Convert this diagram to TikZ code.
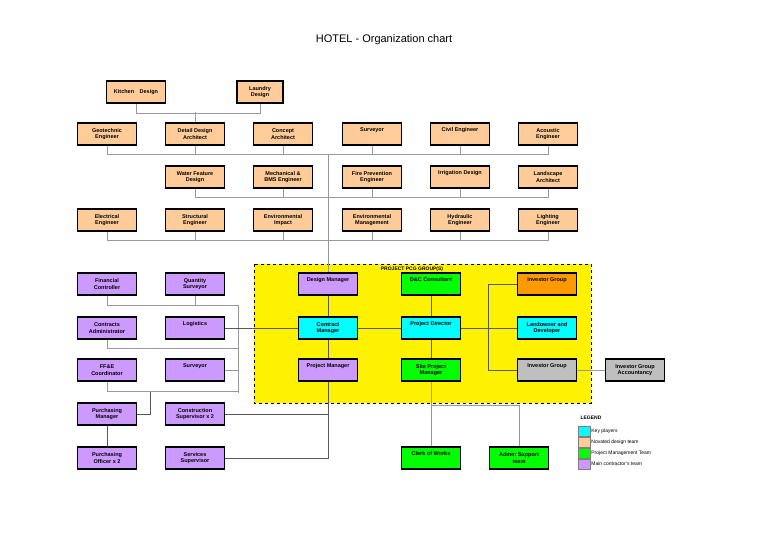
\documentclass[tikz,border=0pt]{standalone}
\usepackage{fontspec}
\setmainfont{Liberation Sans}
\definecolor{novated}{RGB}{255,204,153}
\definecolor{contractor}{RGB}{204,153,255}
\definecolor{investor}{RGB}{255,153,0}
\definecolor{keyplayer}{RGB}{0,255,255}
\definecolor{pmteam}{RGB}{0,255,0}
\begin{document}
\tikzstyle{box}=[draw=black,line width=1.2pt,minimum width=59pt,minimum height=22pt,align=center,inner sep=1pt,font=\fontsize{5.5}{6.5}\selectfont\bfseries]
\tikzstyle{design}=[box,fill=novated]
\tikzstyle{main}=[box,fill=contractor]
\tikzstyle{key}=[box,fill=keyplayer]
\tikzstyle{pm}=[box,fill=pmteam]
\tikzstyle{link}=[draw=gray!80,line width=0.8pt]
\tikzstyle{dlink}=[draw=black!65,line width=0.8pt]
\begin{tikzpicture}[x=1pt,y=-1pt]
\useasboundingbox (0,0) rectangle (768,543);
\node[font=\fontsize{11}{13}\selectfont] (title) at (384,40) {HOTEL - Organization chart};
% project group
\draw[fill=yellow,dashed,line width=0.8pt] (254,264) rectangle (591,403);
\node[font=\fontsize{5}{6}\selectfont\bfseries] (pcg) at (412,269) {PROJECT PCG GROUP(S)};
% design team
\node[design] (kitchen) at (136,92) {Kitchen\quad Design};
\node[design,minimum width=46pt] (laundry) at (260,92) {Laundry\\Design};
\node[design] (geo) at (107,134) {Geotechnic\\Engineer};
\node[design] (detail) at (195,134) {Detail Design\\Architect};
\node[design] (concept) at (283,134) {Concept\\Architect};
\node[design] (surv) at (372,134) {Surveyor\\\strut};
\node[design] (civil) at (460,134) {Civil Engineer\\\strut};
\node[design] (acoustic) at (548,134) {Acoustic\\Engineer};
\node[design] (water) at (195,177) {Water Feature\\Design};
\node[design] (mech) at (283,177) {Mechanical \&\\BMS Engineer};
\node[design] (fire) at (372,177) {Fire Prevention\\Engineer};
\node[design] (irrig) at (460,177) {Irrigation Design\\\strut};
\node[design] (land) at (548,177) {Landscape\\Architect};
\node[design] (elec) at (107,220) {Electrical\\Engineer};
\node[design] (struct) at (195,220) {Structural\\Engineer};
\node[design] (envimp) at (283,220) {Environmental\\Impact};
\node[design] (envman) at (372,220) {Environmental\\Management};
\node[design] (hydr) at (460,220) {Hydraulic\\Engineer};
\node[design] (light) at (548,220) {Lighting\\Engineer};
% project group boxes
\node[main] (desman) at (328,284) {Design Manager\\\strut};
\node[key] (conman) at (328,328) {Contract\\Manager};
\node[main] (proman) at (328,370) {Project Manager\\\strut};
\node[pm] (dc) at (431,284) {D\&C Consultant\\\strut};
\node[key] (director) at (431,328) {Project Director\\\strut};
\node[pm] (site) at (431,370) {Site Project\\Manager};
\node[box,fill=investor] (inv) at (547,284) {Investor Group\\\strut};
\node[key] (owner) at (547,328) {Landowner and\\Developer};
\node[box,fill=gray!50] (invg) at (547,370) {Investor Group\\\strut};
\node[box,fill=gray!50] (acc) at (635,370) {Investor Group\\Accountancy};
\node[pm] (clerk) at (431,458) {Clerk of Works\\\strut};
\node[pm] (admin) at (519,458) {Admin Support\\team};
% main contractor
\node[main] (fin) at (107,284) {Financial\\Controller};
\node[main] (qs) at (195,284) {Quantity\\Surveyor};
\node[main] (cadmin) at (107,328) {Contracts\\Administrator};
\node[main] (logi) at (195,328) {Logistics\\\strut};
\node[main] (ffe) at (107,370) {FF\&E\\Coordinator};
\node[main] (msurv) at (195,370) {Surveyor\\\strut};
\node[main] (purch) at (107,414) {Purchasing\\Manager};
\node[main] (consup) at (195,414) {Construction\\Supervisor x 2};
\node[main] (officer) at (107,458) {Purchasing\\Officer x 2};
\node[main] (servsup) at (195,458) {Services\\Supervisor};
% design connectors
\draw[link] (kitchen.south) -- ++(0,10) -| (laundry.south);
\draw[link] (detail.north) -- ++(0,-10);
\draw[link] (geo.south) -- ++(0,9) -| (acoustic.south);
\foreach \n in {detail,concept,surv,civil} \draw[link] (\n.south) -- ++(0,9);
\draw[link] (water.south) -- ++(0,9) -| (land.south);
\foreach \n in {mech,fire,irrig} \draw[link] (\n.south) -- ++(0,9);
\draw[link] (elec.south) -- ++(0,9) -| (light.south);
\foreach \n in {struct,envimp,envman,hydr} \draw[link] (\n.south) -- ++(0,9);
\coordinate (top) at (328,154);
\draw[link] (top) -- (desman.north);
% project group connectors
\draw[dlink] (desman) -- (conman) -- (proman);
\draw[dlink] (dc) -- (director) -- (site);
\draw[dlink] (conman) -- (director) -- (owner);
\draw[dlink] (inv.west) -- ++(-29,0) |- (invg.west);
\draw[link] (invg) -- (acc);
\draw[link] (site.south) -- ++(0,24) -| (admin.north);
\draw[link] (site.south) -- (clerk.north);
\draw[dlink] (proman.south) |- (servsup.east);
\draw[dlink] (consup.east) -| (proman.south);
% main contractor connectors
\draw[link] (fin.south) -- ++(0,10) -| (238,392);
\draw[link] (qs.south) -- ++(0,10);
\draw[dlink] (logi) -- (conman);
\draw[link] (cadmin.south) -- ++(0,9) -| (238,348);
\draw[link] (msurv) -- (238,370);
\draw[link] (ffe.south) -- ++(0,10) -| (238,392);
\draw[dlink] (purch.east) -- ++(13,0) |- (150,392);
\draw[dlink] (purch) -- (officer);
% legend
\node[font=\fontsize{5}{6}\selectfont\bfseries,anchor=west] (legend) at (577,418) {LEGEND};
\foreach \c/\t [count=\i] in {keyplayer/Key players,novated/Novated design team,pmteam/Project Management Team,contractor/Main contractor's team}{
  \node[draw=gray,fill=\c,minimum width=12pt,minimum height=10pt,inner sep=0pt] (sw\i) at (584,420+11*\i) {};
  \node[anchor=west,font=\fontsize{5}{6}\selectfont,inner sep=1pt] (lt\i) at (sw\i.east) {\t};
}
\end{tikzpicture}
\end{document}
